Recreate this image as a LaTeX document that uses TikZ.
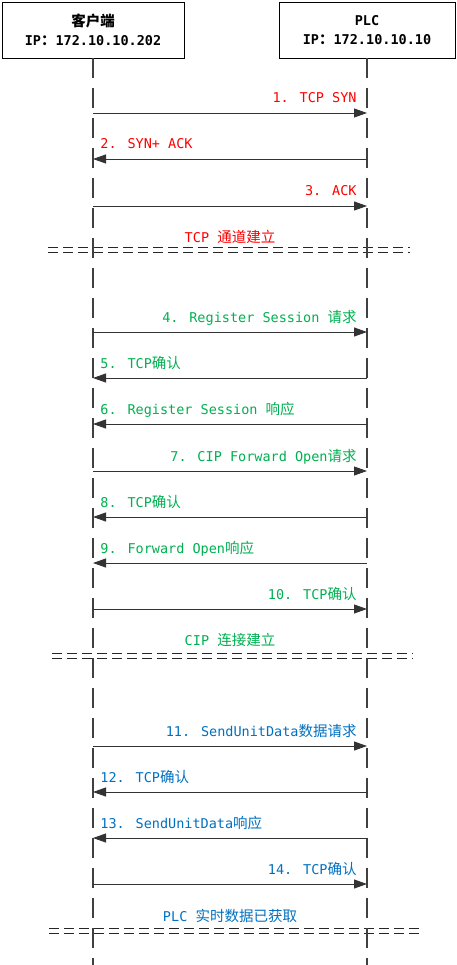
\documentclass[tikz,border=0pt]{standalone}
\usepackage{fontspec}
\setmainfont{DejaVu Sans Mono}
\newfontfamily\cjk{Noto Sans CJK SC}
\usetikzlibrary{arrows.meta,positioning}
\definecolor{msgred}{RGB}{255,0,0}
\definecolor{msggreen}{RGB}{0,176,80}
\definecolor{msgblue}{RGB}{0,112,192}
\newcommand{\zh}[1]{{\cjk\fontsize{14.5pt}{17pt}\selectfont #1}}

\begin{document}
\begin{tikzpicture}[x=1pt, y=-1pt,
    font=\fontsize{13.5pt}{16pt}\selectfont,
    head/.style={draw, line width=0.8pt, minimum height=56pt, align=center, inner sep=0pt, font=\fontsize{13.5pt}{19pt}\selectfont\bfseries},
    life/.style={line width=1.1pt, black!75, dash pattern=on 20pt off 10pt},
    arr/.style={-{Triangle[length=13pt,width=9pt]}, line width=0.9pt, black!80},
    rlbl/.style={anchor=base east, inner sep=0pt, xshift=-10pt, yshift=10pt},
    llbl/.style={anchor=base west, inner sep=0pt, xshift=7pt, yshift=10pt},
    sep/.style={double, double distance=4pt, line width=1pt, black!85, dash pattern=on 10pt off 5pt}
]
\useasboundingbox (0,0) rectangle (457,965);

% participants
\node[head, minimum width=182pt] (cli) at (93,30) {\zh{客户端}\\IP\zh{：}172.10.10.202};
\node[head, minimum width=176pt] (plc) at (367,30) {PLC\\IP\zh{：}172.10.10.10};

% phase separators
\coordinate (s1a) at (48,250.5);  \coordinate (s1b) at (410,250.5);
\coordinate (s2a) at (52,655.5);  \coordinate (s2b) at (413,655.5);
\coordinate (s3a) at (49,930.5);  \coordinate (s3b) at (420,930.5);
\draw[sep] (s1a) -- (s1b);
\draw[sep] (s2a) -- (s2b);
\draw[sep] (s3a) -- (s3b);

% lifelines
\coordinate (cend) at (93,965);
\coordinate (pend) at (367,965);
\draw[life] (cli.south) -- (cend);
\draw[life] (plc.south) -- (pend);

\foreach \i/\y in {1/113,2/159,3/206,4/332,5/378,6/424,7/471,8/517,9/563,10/609,11/746,12/792,13/838,14/884}{
  \coordinate (c\i) at (93,\y);
  \coordinate (p\i) at (367,\y);
}

% TCP
\draw[arr] (c1) -- (p1) node[rlbl, text=msgred] (m1) {1. TCP SYN};
\draw[arr] (p2) -- (c2) node[llbl, text=msgred] (m2) {2. SYN+ ACK};
\draw[arr] (c3) -- (p3) node[rlbl, text=msgred] (m3) {3. ACK};
\node[text=msgred] (ph1) at (230,237) {TCP \zh{通道建立}};

% CIP
\draw[arr] (c4) -- (p4) node[rlbl, text=msggreen] (m4) {4. Register Session \zh{请求}};
\draw[arr] (p5) -- (c5) node[llbl, text=msggreen] (m5) {5. TCP\zh{确认}};
\draw[arr] (p6) -- (c6) node[llbl, text=msggreen] (m6) {6. Register Session \zh{响应}};
\draw[arr] (c7) -- (p7) node[rlbl, text=msggreen] (m7) {7. CIP Forward Open\zh{请求}};
\draw[arr] (p8) -- (c8) node[llbl, text=msggreen] (m8) {8. TCP\zh{确认}};
\draw[arr] (p9) -- (c9) node[llbl, text=msggreen] (m9) {9. Forward Open\zh{响应}};
\draw[arr] (c10) -- (p10) node[rlbl, text=msggreen] (m10) {10. TCP\zh{确认}};
\node[text=msggreen] (ph2) at (230,640) {CIP \zh{连接建立}};

% data
\draw[arr] (c11) -- (p11) node[rlbl, text=msgblue] (m11) {11. SendUnitData\zh{数据请求}};
\draw[arr] (p12) -- (c12) node[llbl, text=msgblue] (m12) {12. TCP\zh{确认}};
\draw[arr] (p13) -- (c13) node[llbl, text=msgblue] (m13) {13. SendUnitData\zh{响应}};
\draw[arr] (c14) -- (p14) node[rlbl, text=msgblue] (m14) {14. TCP\zh{确认}};
\node[text=msgblue] (ph3) at (230,916) {PLC \zh{实时数据已获取}};
\end{tikzpicture}
\end{document}
